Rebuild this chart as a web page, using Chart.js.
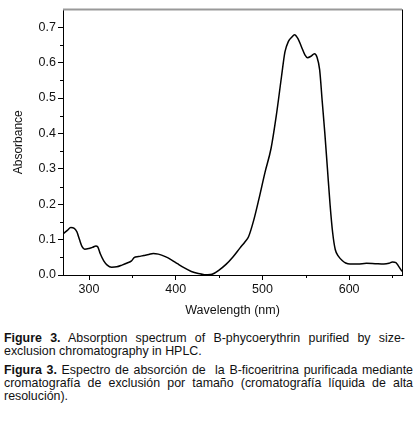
<!DOCTYPE html>
<html>
<head>
<meta charset="utf-8">
<script src="https://cdn.jsdelivr.net/npm/chart.js@4"></script>
<style>
  body { margin: 0; background: #fff; width: 417px; }
  #wrap { position: relative; width: 417px; height: 320px; }
  .cap { font-family: "Liberation Sans", Arial, sans-serif; font-size: 12.4px; line-height: 13px;
         color: #111; padding: 0 4px 0 4px; }
  .cap p { margin: 0; white-space: nowrap; }
  .cap .j { text-align: justify; text-align-last: justify; }
  .cap b { font-weight: bold; }
  #c1 { margin-top: 12px; }
  #c2 { margin-top: 6px; }
</style>
</head>
<body>
<div id="wrap"><canvas id="chart"></canvas></div>
<div class="cap" id="c1">
  <p class="j" style="margin-right:8px"><b>Figure 3.</b> Absorption spectrum of B-phycoerythrin purified by size-</p>
  <p>exclusion chromatography in HPLC.</p>
</div>
<div class="cap" id="c2">
  <p class="j"><b>Figura 3.</b> Espectro de absorción de &nbsp;la B-ficoeritrina purificada mediante</p>
  <p class="j">cromatografía de exclusión por tamaño (cromatografía líquida de alta</p>
  <p>resolución).</p>
</div>
<script>
// absorption spectrum
const wavelengths = [270, 275, 279, 283, 286, 289, 292, 295, 300, 304, 308, 310, 313, 317, 321, 326,
  332, 338, 344, 349, 352, 357, 363, 369, 374, 380, 388, 395, 402, 410, 418, 426, 433, 437, 442,
  450, 458, 466, 474, 480, 484, 490, 496, 503, 510, 516, 522, 526, 530, 534, 537, 541,
  545, 549, 552, 556, 560, 563, 566, 569, 572, 575, 578, 581, 584, 588, 592, 596, 601, 610, 620,
  630, 640, 646, 650, 654, 657, 661];
const absorbance = [0.116, 0.126, 0.134, 0.132, 0.122, 0.100, 0.080, 0.073, 0.075, 0.078, 0.082,
  0.080, 0.060, 0.040, 0.028, 0.022, 0.023, 0.028, 0.034, 0.040, 0.049, 0.052, 0.055, 0.058,
  0.061, 0.059, 0.052, 0.043, 0.032, 0.020, 0.010, 0.004, 0.001, 0.0005, 0.002, 0.014, 0.030,
  0.051, 0.076, 0.094, 0.108, 0.155, 0.215, 0.290, 0.358, 0.450, 0.560, 0.630, 0.660, 0.672,
  0.679, 0.668, 0.645, 0.622, 0.614, 0.618, 0.625, 0.615, 0.580, 0.490, 0.400, 0.300, 0.200,
  0.120, 0.072, 0.052, 0.041, 0.034, 0.031, 0.031, 0.033, 0.032, 0.031, 0.033, 0.037, 0.035,
  0.025, 0.010];
const xMajor = [300, 400, 500, 600];
const xMinor = [350, 450, 550, 650];
const yMajor = [0, 0.1, 0.2, 0.3, 0.4, 0.5, 0.6, 0.7];
const yMinor = [0.05, 0.15, 0.25, 0.35, 0.45, 0.55, 0.65];

const FONT = "'Liberation Sans', Arial, sans-serif";

// minor ticks plus the grey top edge / black right edge of the frame
const framePlugin = {
  id: "frame",
  afterDraw(chart) {
    const { ctx, chartArea: a, scales } = chart;
    ctx.save();
    ctx.strokeStyle = "#000";
    ctx.lineWidth = 1;
    ctx.beginPath();
    xMinor.forEach((v) => {
      const x = Math.round(scales.x.getPixelForValue(v)) + 0.5;
      ctx.moveTo(x, a.bottom);
      ctx.lineTo(x, a.bottom + 3);
    });
    yMinor.forEach((v) => {
      const y = Math.round(scales.y.getPixelForValue(v)) + 0.5;
      ctx.moveTo(a.left - 3, y);
      ctx.lineTo(a.left, y);
    });
    ctx.moveTo(a.right + 0.5, a.top);
    ctx.lineTo(a.right + 0.5, a.bottom);
    ctx.stroke();
    ctx.strokeStyle = "#999";
    ctx.lineWidth = 2;
    ctx.beginPath();
    ctx.moveTo(a.left, a.top);
    ctx.lineTo(a.right, a.top);
    ctx.stroke();
    ctx.restore();
  },
};

new Chart(document.getElementById("chart"), {
  type: "line",
  data: {
    datasets: [{
      data: wavelengths.map((w, i) => ({ x: w, y: absorbance[i] })),
      borderColor: "#000",
      borderWidth: 1.5,
      pointRadius: 0,
      cubicInterpolationMode: "monotone",
      fill: false,
    }],
  },
  options: {
    responsive: true,
    maintainAspectRatio: false,
    animation: false,
    layout: { padding: { top: 4, right: 15, left: 0, bottom: 0 } },
    plugins: { legend: { display: false }, tooltip: { enabled: false } },
    scales: {
      x: {
        type: "linear",
        min: 270,
        max: 661,
        afterBuildTicks: (s) => { s.ticks = xMajor.map((v) => ({ value: v })); },
        afterFit: (s) => { s.height = 45; },
        border: { color: "#000", width: 1 },
        grid: { drawOnChartArea: false, tickLength: 5, color: "#000" },
        ticks: { color: "#111", font: { family: FONT, size: 12.5 }, padding: 2, maxRotation: 0 },
        title: { display: true, text: "Wavelength (nm)", color: "#111",
                 font: { family: FONT, size: 12.5 }, padding: { top: 4, bottom: 2 } },
      },
      y: {
        min: 0,
        max: 0.75,
        afterBuildTicks: (s) => { s.ticks = yMajor.map((v) => ({ value: v })); },
        afterFit: (s) => { s.width = 63; },
        border: { color: "#000", width: 1 },
        grid: { drawOnChartArea: false, tickLength: 5, color: "#000" },
        ticks: { color: "#111", font: { family: FONT, size: 12.5 }, padding: 2,
                 callback: (v) => v.toFixed(1) },
        title: { display: true, text: "Absorbance", color: "#111",
                 font: { family: FONT, size: 12 }, padding: { top: 11, bottom: 0 } },
      },
    },
  },
  plugins: [framePlugin],
});
</script>
</body>
</html>
